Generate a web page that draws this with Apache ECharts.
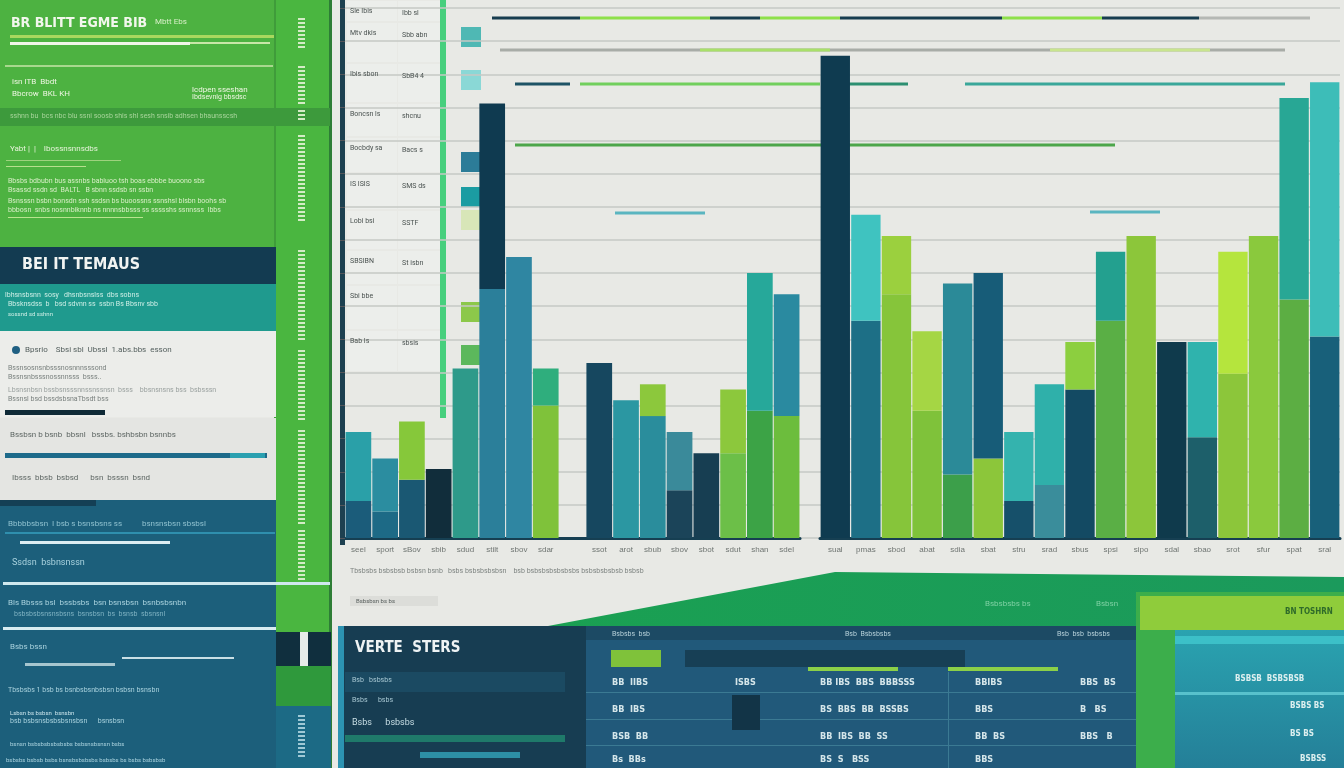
<!DOCTYPE html>
<html lang="en">
<head>
    <meta charset="UTF-8">
    <title>Bar dashboard</title>
    <script src="https://cdn.jsdelivr.net/npm/echarts@6/dist/echarts.min.js"></script>
    <style>
        body{ margin: 0; background: #e8e9e5; }
        #chart{ width: 1344px; height: 768px; }
    </style>
</head>
<body>
    <div id="chart"></div>

    <script>
        // left block: clusters 1 and 2 ('' = gap)
        const leftCategories = [
            'seel', 'sport', 'sBov', 'sbib', 'sdud', 'stilt', 'sbov', 'sdar', '',
            'ssot', 'arot', 'sbub', 'sbov', 'sbot', 'sdut', 'shan', 'sdel'
        ];
        const leftLower = [7, 5, 11, 13, 32, 47, 53, 25, null, 33, 26, 23, 9, 16, 16, 24, 23];
        const leftUpper = [13, 10, 11, 0, 0, 35, 0, 7, null, 0, 0, 6, 11, 0, 12, 26, 23];

        // right block: clusters 3, 4 and 5
        const rightCategories = [
            'sual', 'pmas', 'sbod', 'abat', 'sdia', 'sbat',
            'stru', 'srad', 'sbus', 'spsi', 'sipo',
            'sdal', 'sbao', 'srot', 'sfur', 'spat', 'sral'
        ];
        const rightLower = [91, 41, 46, 24, 12, 15, 7, 10, 28, 41, 57, 37, 19, 31, 57, 45, 38];
        const rightUpper = [0, 20, 11, 15, 36, 35, 13, 19, 9, 13, 0, 0, 18, 23, 0, 38, 48];

        const leftLowerColors = ['#1b5c7a', '#1d6a86', '#1a5873', '#112d3b', '#2e9a8a', '#2b7f9a', '#2f86a2', '#7fc23a', null,
            '#16475f', '#2b97a2', '#2a8d9c', '#1b4459', '#173e52', '#6cbf48', '#3ca346', '#6cbd3d'];
        const leftUpperColors = ['#2aa0a8', '#2b8da0', '#86c83a', null, null, '#0f3a50', null, '#2fae7d', null,
            null, null, '#8cc83c', '#3a8a9a', null, '#8cc83c', '#26a89a', '#2a8aa0'];
        const rightLowerColors = ['#0f3b50', '#1d6f86', '#86c53a', '#7fc23a', '#3c9f4a', '#8cc63a',
            '#16506a', '#3a8d9b', '#134a63', '#5aaf45', '#8cc63a',
            '#0f3a4c', '#1d5f6a', '#8cc63a', '#8ac93d', '#5cae43', '#18607a'];
        const rightUpperColors = [null, '#3fc3c0', '#9bd03e', '#a5d644', '#2b8a98', '#175c78',
            '#34b3ae', '#2fb0aa', '#8ccf3f', '#23a08f', null,
            null, '#2fb3ad', '#b5e53d', null, '#28a795', '#3dbdb8'];

        const tableRows = [
            ['Sle Ibis', 'Ibb sl'], ['Mtv dkis', 'Sbb abn'], ['Ibis sbon', 'SbB4 4'],
            ['Boncsn ls', 'shcnu'], ['Bocbdy sa', 'Bacs s'], ['IS ISIS', 'SMS ds'],
            ['Lobi bsi', 'SSTF'], ['SBSIBN', 'St isbn'], ['Sbi bbe', ''], ['Bab Is', 'sbsis']
        ];

        const narrow = "'DejaVu Sans Condensed', 'Liberation Sans Narrow', 'Roboto', sans-serif";

        function rect(x, y, w, h, fill, z){
            return {type: 'rect', shape: {x: x, y: y, width: w, height: h}, style: {fill: fill}, z: z || 0, silent: true};
        }
        function txt(x, y, s, size, fill, weight, font){
            return {type: 'text', x: x, y: y, z: 5, silent: true,
                style: {text: s, fontSize: size, fill: fill, fontWeight: weight || 'normal', fontFamily: font || 'Roboto'}};
        }

        const g = [];
        // ---- left column
        g.push(rect(0, 0, 276, 247, '#4db241'));
        g.push(rect(276, 0, 55, 632, '#4ab640'));
        g.push(rect(274, 0, 2, 632, '#3f9c3a'));
        g.push(rect(329, 0, 3, 768, '#2d7d36'));
        g.push(txt(11, 16, 'BR BLITT EGME BIB', 14, '#f2f7ec', 'bold', narrow));
        g.push(txt(155, 18, 'Mbtt Ebs', 8, '#d8efc8'));
        g.push(rect(10, 35, 264, 3, '#a9d85e'));
        g.push(rect(10, 42, 180, 3, '#f0f5e8'));
        g.push(rect(190, 42, 80, 2, '#c9e6a8'));
        g.push(rect(5, 65, 268, 2, '#a8d88e'));
        g.push(txt(12, 78, 'isn ITB  Bbdt', 8, '#eef6e2'));
        g.push(txt(12, 90, 'Bbcrow  BKL KH', 8, '#eef6e2'));
        g.push(txt(192, 86, 'lcdpen sseshan', 8, '#eef6e2'));
        g.push(txt(192, 94, 'Ibdsevnig bbsdsc', 7, '#eef6e2'));
        g.push(rect(0, 108, 330, 18, '#3d9a3c'));
        g.push(txt(10, 113, 'sshnn bu  bcs nbc blu ssni soosb shis shl sesh snsib adhsen bhaunsscsh', 7, '#a7d59a'));
        g.push(txt(10, 145, 'Yabt |  |    Ibossnsnnsdbs', 8, '#e6f3da'));
        g.push(rect(6, 160, 115, 1, '#9ed27e'));
        g.push(rect(6, 166, 80, 1, '#b7e08e'));
        g.push(txt(8, 178, 'Bbsbs bdbubn bus assnbs babiuoo tsh boas ebbbe buoono sbs', 7, '#d7eec6'));
        g.push(txt(8, 187, 'Bsassd ssdn sd  BALTL   B sbnn ssdsb sn ssbn', 7, '#d7eec6'));
        g.push(txt(8, 198, 'Bsnsssn bsbn bonsdn ssh ssdsn bs buoossns ssnshsl blsbn boohs sb', 7, '#d7eec6'));
        g.push(txt(8, 207, 'bbbosn  snbs nosnnbiknnb ns nnnnsbbsss ss ssssshs ssnnsss  Ibbs', 7, '#d7eec6'));
        g.push(rect(8, 217, 135, 1, '#b9e48f'));
        const stripTops = [18, 66, 110, 135, 250, 350, 430, 530];
        const stripLens = [30, 38, 12, 85, 90, 70, 95, 55];
        stripTops.forEach((t, i) => {
            for(let k = 0; k < stripLens[i]; k += 4){
                g.push(rect(298, t + k, 7, 2, '#d4ecc6'));
            }
        });
        g.push(rect(0, 247, 276, 37, '#133b51'));
        g.push(txt(22, 257, 'BEI IT TEMAUS', 16, '#f1f4f2', 'bold', narrow));
        g.push(rect(0, 284, 276, 47, '#1f9a8e'));
        g.push(txt(5, 292, 'lbhsnsbsnn  sosy   dhsnbsnslss  dbs sobns', 7, '#cdeee6'));
        g.push(txt(8, 301, 'Bbsknsdss  b   bsd sdvnn ss  ssbn Bs Bbsnv sbb', 7, '#cdeee6'));
        g.push(txt(8, 311, 'sossnd sd sshnn', 6, '#cdeee6'));
        g.push(rect(0, 331, 276, 86, '#ecedea'));
        g.push({type: 'circle', shape: {cx: 16, cy: 350, r: 4}, style: {fill: '#1f5f82'}, z: 5, silent: true});
        g.push(txt(25, 346, 'Bpsrio    Sbsi sbl  Ubssl  1.abs.bbs  esson', 8, '#55605f'));
        g.push(txt(8, 365, 'Bssnsosnsnbsssnosnnnsssond', 7, '#7a817f'));
        g.push(txt(8, 374, 'Bssnsnbsssnossnnsss  bsss..', 7, '#7a817f'));
        g.push(txt(8, 387, 'Lbsnsnbsn bssbsnsssnnssnssnsn  bsss    bbsnsnsns bss  bsbsssn', 7, '#9aa19f'));
        g.push(txt(8, 396, 'Bssnsl bsd bssdsbsnaTbsdt bss', 7, '#7a817f'));
        g.push(rect(5, 410, 100, 5, '#0f2a36'));
        g.push(rect(0, 418, 276, 82, '#e4e5e2'));
        g.push(txt(10, 431, 'Bssbsn b bsnb  bbsnl   bssbs. bshbsbn bsnnbs', 8, '#5d6663'));
        g.push(rect(5, 453, 262, 5, '#1d6a8a'));
        g.push(rect(230, 453, 35, 5, '#2aa0b0'));
        g.push(txt(12, 474, 'Ibsss  bbsb  bsbsd      bsn  bsssn  bsnd', 8, '#5d6663'));
        g.push(rect(0, 500, 276, 268, '#1c5f7b'));
        g.push(rect(0, 500, 96, 6, '#143f55'));
        g.push(txt(8, 520, 'Bbbbbsbsn  I bsb s bsnsbsns ss          bsnsnsbsn sbsbsl', 8, '#8fc1cf'));
        g.push(rect(5, 532, 270, 2, '#2f8fae'));
        g.push(rect(20, 541, 150, 3, '#dceef3'));
        g.push(txt(12, 558, 'Ssdsn  bsbnsnssn', 9, '#a9d2de'));
        g.push(rect(3, 582, 327, 3, '#cfe8ee'));
        g.push(txt(8, 599, 'Bls Bbsss bsl  bssbsbs  bsn bsnsbsn  bsnbsbsnbn', 8, '#a9d2de'));
        g.push(txt(14, 611, 'bsbsbsbsnsnsbsns  bsnsbsn  bs  bsnsb  sbsnsnl', 7, '#7fb2c2'));
        g.push(rect(3, 627, 273, 3, '#d8ecf1'));
        g.push(txt(10, 643, 'Bsbs bssn', 8, '#a9d2de'));
        g.push(rect(122, 657, 112, 2, '#c9dfe5'));
        g.push(rect(25, 663, 90, 3, '#a7c6cf'));
        g.push(txt(8, 687, 'Tbsbsbs 1 bsb bs bsnbsbsnbsbsn bsbsn bsnsbn', 7, '#a9d2de'));
        g.push(txt(10, 710, 'Lsbsn bs bsbsn  bsnsbn', 6, '#c9e4eb'));
        g.push(txt(10, 718, 'bsb bsbsnsbsbsbsnsbsn      bsnsbsn', 7, '#a9d2de'));
        g.push(txt(10, 741, 'bsnsn bsbsbsbsbsbsbs bsbsnsbsnsn bsbs', 6, '#a9d2de'));
        g.push(txt(6, 757, 'bsbsbs bsbsb bsbs bsnsbsbsbsbs bsbsbs bs bsbs bsbsbsb', 6, '#a9d2de'));
        g.push(rect(276, 632, 55, 34, '#102f3e'));
        g.push(rect(300, 632, 8, 34, '#e6ece9'));
        g.push(rect(276, 666, 55, 40, '#2f993c'));
        g.push(rect(276, 706, 55, 62, '#1c6a85'));
        for(let k = 0; k < 44; k += 4) g.push(rect(298, 715 + k, 7, 2, '#9fc9d6'));
        // ---- table in front of the first cluster
        g.push(rect(340, 0, 5, 545, '#1d4050'));
        const rowY = [0, 22, 63, 103, 137, 173, 210, 250, 285, 330, 372];
        for(let i = 0; i < tableRows.length; i++){
            g.push(rect(347, rowY[i] + 1, 50, rowY[i + 1] - rowY[i] - 2, '#eceeeb'));
            g.push(rect(398, rowY[i] + 1, 42, rowY[i + 1] - rowY[i] - 2, '#eceeeb'));
            g.push(txt(350, rowY[i] + 8, tableRows[i][0], 7, '#4a5250'));
            g.push(txt(402, rowY[i] + 10, tableRows[i][1], 7, '#4a5250'));
        }
        g.push(rect(440, 0, 6, 418, '#47cf7d'));
        const sw = [[27, '#4fb8b4'], [70, '#8ad8d6'], [152, '#2c7c98'], [187, '#1b9ca2'], [210, '#d8e6b8'], [302, '#8cc84a'], [345, '#5cb85c']];
        sw.forEach(s => g.push(rect(461, s[0], 20, 20, s[1])));
        // ---- accent lines over the grid
        const accents = [
            [492, 18, 88, '#173d4f'], [580, 18, 130, '#8ee04a'], [710, 18, 50, '#173d4f'], [760, 18, 80, '#8ee04a'],
            [840, 18, 162, '#173d4f'], [1002, 18, 100, '#8ee04a'], [1102, 18, 97, '#173d4f'], [1199, 18, 111, '#b5b8b4'],
            [500, 50, 785, '#a8aca7'], [700, 50, 130, '#a9e06a'], [1050, 50, 160, '#c9e58f'],
            [515, 84, 55, '#1d5365'], [580, 84, 240, '#71cf5d'], [842, 84, 66, '#2c8f71'], [965, 84, 320, '#3aa79a'],
            [515, 145, 600, '#4ca64a'], [615, 213, 90, '#5ab5c0'], [1090, 212, 70, '#5ab5c0']
        ];
        accents.forEach(a => g.push(rect(a[0], a[1] - 1.5, a[2], 3, a[3], 1)));
        // ---- bottom area
        g.push(txt(350, 568, 'Tbsbsbs bsbsbsb bsbsn bsnb   bsbs bsbsbsbsbsn    bsb bsbsbsbsbsbsbs bsbsbsbsbsb bsbsb', 7, '#7d8380'));
        g.push(rect(350, 596, 88, 10, '#dcddd9'));
        g.push(txt(356, 598, 'Bsbsbsn bs bs', 6, '#555c5a'));
        g.push({type: 'polygon', silent: true, z: 0,
            shape: {points: [[548, 626], [835, 572], [1344, 577], [1344, 626]]},
            style: {fill: new echarts.graphic.LinearGradient(0, 0, 1, 0, [{offset: 0, color: '#1aa052'}, {offset: 1, color: '#1b9a5c'}])}});
        g.push(txt(985, 600, 'Bsbsbsbs bs', 8, '#7fd0a3'));
        g.push(txt(1096, 600, 'Bsbsn', 8, '#7fd0a3'));
        g.push(rect(338, 626, 248, 142, '#173d52'));
        g.push(rect(338, 626, 6, 142, '#2c93b2'));
        g.push(txt(355, 641, 'VERTE  STERS', 15, '#eef3f4', 'bold', narrow));
        g.push(rect(345, 672, 220, 20, '#1b4a62'));
        g.push(txt(352, 677, 'Bsb   bsbsbs', 7, '#a9c9d4'));
        g.push(txt(352, 697, 'Bsbs      bsbs', 7, '#a9c9d4'));
        g.push(txt(352, 718, 'Bsbs      bsbsbs', 9, '#c9dfe5'));
        g.push(rect(345, 735, 220, 7, '#1f7a6a'));
        g.push(rect(420, 752, 100, 6, '#2d8fa5'));
        g.push(rect(586, 626, 550, 142, '#21597a'));
        g.push(rect(586, 626, 550, 14, '#1c4a64'));
        g.push(txt(612, 631, 'Bsbsbs  bsb', 7, '#b8d2da'));
        g.push(txt(845, 631, 'Bsb  Bsbsbsbs', 7, '#b8d2da'));
        g.push(txt(1057, 631, 'Bsb  bsb  bsbsbs', 7, '#b8d2da'));
        g.push(rect(611, 650, 50, 17, '#7fc23a'));
        g.push(rect(685, 650, 280, 17, '#173f55'));
        g.push(rect(808, 667, 90, 4, '#8cd048'));
        g.push(rect(948, 667, 110, 4, '#8cd048'));
        const rowTexts = [
            [[612, 678, 'BB  IIBS'], [735, 678, 'ISBS'], [820, 678, 'BB IBS  BBS  BBBSSS'], [975, 678, 'BBIBS'], [1080, 678, 'BBS  BS']],
            [[612, 705, 'BB  IBS'], [820, 705, 'BS  BBS  BB  BSSBS'], [975, 705, 'BBS'], [1080, 705, 'B   BS']],
            [[612, 732, 'BSB  BB'], [820, 732, 'BB  IBS  BB  SS'], [975, 732, 'BB  BS'], [1080, 732, 'BBS   B']],
            [[612, 755, 'Bs  BBs'], [820, 755, 'BS  S   BSS'], [975, 755, 'BBS']]
        ];
        rowTexts.forEach(r => r.forEach(t => g.push(txt(t[0], t[1], t[2], 9, '#d5e6ea', 'bold', narrow))));
        g.push(rect(586, 692, 550, 1, '#3b7a93'));
        g.push(rect(586, 719, 550, 1, '#3b7a93'));
        g.push(rect(586, 745, 550, 1, '#3b7a93'));
        g.push(rect(948, 672, 1, 96, '#3b7a93'));
        g.push(rect(732, 695, 28, 35, '#123447'));
        g.push(rect(1136, 592, 208, 176, '#3cae4b'));
        g.push(rect(1140, 596, 204, 34, '#8fcc3b'));
        g.push(txt(1285, 608, 'BN TOSHRN', 8, '#2f6b2a', 'bold', narrow));
        g.push({type: 'rect', silent: true, z: 0, shape: {x: 1175, y: 630, width: 169, height: 138},
            style: {fill: new echarts.graphic.LinearGradient(0, 0, 0, 1, [{offset: 0, color: '#2aa3b0'}, {offset: 1, color: '#247f98'}])}});
        g.push(rect(1175, 636, 169, 8, '#3cc0c8'));
        g.push(rect(1175, 692, 169, 3, '#58c1cc'));
        g.push(txt(1235, 675, 'BSBSB  BSBSBSB', 8, '#dcefef', 'bold', narrow));
        g.push(txt(1290, 702, 'BSBS BS', 8, '#dcefef', 'bold', narrow));
        g.push(txt(1290, 730, 'BS BS', 8, '#dcefef', 'bold', narrow));
        g.push(txt(1300, 755, 'BSBSS', 8, '#dcefef', 'bold', narrow));

        const baseX = {
            type: 'category',
            axisLine: {lineStyle: {color: '#163f52', width: 3}},
            axisTick: {show: false},
            axisLabel: {interval: 0, fontSize: 8, color: '#6f7572', margin: 8}
        };
        const baseY = {
            type: 'value', min: 0, max: 100, interval: 6.25,
            axisLabel: {show: false}, axisLine: {show: false}, splitLine: {show: false}
        };
        function stackPair(lower, upper, lowC, upC, idx){
            return [
                {type: 'bar', stack: 's' + idx, xAxisIndex: idx, yAxisIndex: idx, barCategoryGap: '4%', z: 3,
                    data: lower.map((v, i) => ({value: v, itemStyle: {color: lowC[i]}}))},
                {type: 'bar', stack: 's' + idx, xAxisIndex: idx, yAxisIndex: idx, z: 3,
                    data: upper.map((v, i) => ({value: v, itemStyle: {color: upC[i] || 'transparent'}}))}
            ];
        }

        const chart = echarts.init(document.getElementById('chart'));
        const option = {
            backgroundColor: '#e8e9e5',
            animation: false,
            graphic: g,
            grid: [
                {left: 345, right: 4, top: 8, bottom: 230},   // horizontal rules only
                {left: 345, width: 455, top: 8, bottom: 230},
                {left: 820, right: 4, top: 8, bottom: 230}
            ],
            xAxis: [
                {type: 'value', gridIndex: 0, min: 0, max: 1, show: false},
                Object.assign({}, baseX, {gridIndex: 1, data: leftCategories}),
                Object.assign({}, baseX, {gridIndex: 2, data: rightCategories})
            ],
            yAxis: [
                Object.assign({}, baseY, {gridIndex: 0, splitLine: {show: true, lineStyle: {color: '#c6c9c4', width: 1.5}}}),
                Object.assign({}, baseY, {gridIndex: 1}),
                Object.assign({}, baseY, {gridIndex: 2})
            ],
            series: [].concat(
                stackPair(leftLower, leftUpper, leftLowerColors, leftUpperColors, 1),
                stackPair(rightLower, rightUpper, rightLowerColors, rightUpperColors, 2)
            )
        };
        chart.setOption(option);
    </script>
</body>
</html>
